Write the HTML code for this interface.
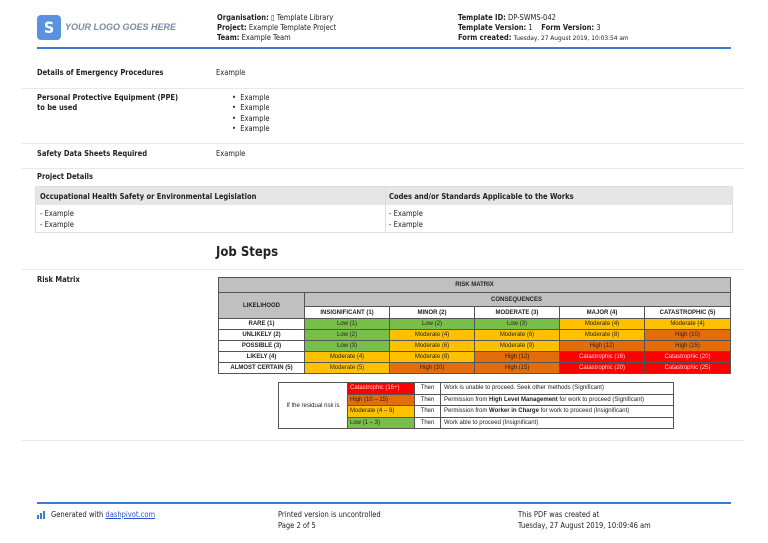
<!DOCTYPE html>
<html><head><meta charset="utf-8">
<style>
*{box-sizing:border-box;margin:0;padding:0}
body{width:768px;height:543px;background:#fff;position:relative;overflow:hidden;font-family:"DejaVu Sans Condensed","DejaVu Sans","Liberation Sans",sans-serif;color:#222;font-size:7.5px}
.a{position:absolute;white-space:nowrap}
.b{font-weight:bold}
.sep{position:absolute;left:22px;width:722px;height:1px;background:#e8e8e8}
table{border-collapse:collapse;position:absolute;font-family:"Liberation Sans",sans-serif;font-size:6px;table-layout:fixed}
td{border:1px solid #555;text-align:center;padding:0;line-height:1;overflow:hidden;white-space:nowrap}
.g{background:#78bf4a}.y{background:#ffc000}.o{background:#e46c0a}.r{background:#ff0000;color:#ffdada}
.gr{background:#c0c0c0;font-weight:bold}
</style></head><body>
<div class="a" style="left:37px;top:15px;width:24px;height:25px;background:#5a92e0;border-radius:4px;color:#fff;font-size:16px;font-weight:bold;text-align:center;line-height:25px">S</div>
<div class="a b" style="left:65px;top:22px;font-size:9px;color:#7a8aa0;font-style:italic;font-family:'Liberation Sans',sans-serif">YOUR LOGO GOES HERE</div>
<div class="a" style="left:217px;top:13px;line-height:10px"><b>Organisation:</b> ▯ Template Library<br><b>Project:</b> Example Template Project<br><b>Team:</b> Example Team</div>
<div class="a" style="left:458px;top:13px;line-height:10px"><b>Template ID:</b> DP-SWMS-042<br><b>Template Version:</b> 1 &nbsp;&nbsp; <b>Form Version:</b> 3<br><b>Form created:</b> <span style="font-size:6.5px">Tuesday, 27 August 2019, 10:03:54 am</span></div>
<div class="a" style="left:37px;top:47px;width:694px;height:2px;background:#3a7bd5"></div>

<div class="a b" style="left:37px;top:68px">Details of Emergency Procedures</div>
<div class="a" style="left:216px;top:68px">Example</div>
<div class="sep" style="top:88px"></div>
<div class="a b" style="left:37px;top:93px;line-height:10px">Personal Protective Equipment (PPE)<br>to be used</div>
<div class="a" style="left:232px;top:93px;line-height:10.3px">•&nbsp; Example<br>•&nbsp; Example<br>•&nbsp; Example<br>•&nbsp; Example</div>
<div class="sep" style="top:143px"></div>
<div class="a b" style="left:37px;top:149px">Safety Data Sheets Required</div>
<div class="a" style="left:216px;top:149px">Example</div>
<div class="sep" style="top:168px"></div>
<div class="a b" style="left:37px;top:172px">Project Details</div>
<div class="a" style="left:35px;top:186px;width:698px;height:47px;border:1px solid #ddd">
 <div class="a" style="left:0;top:0;width:696px;height:18px;background:#e6e6e6"></div>
 <div class="a" style="left:349px;top:0;width:1px;height:45px;background:#ddd"></div>
 <div class="a b" style="left:4px;top:5px">Occupational Health Safety or Environmental Legislation</div>
 <div class="a b" style="left:353px;top:5px">Codes and/or Standards Applicable to the Works</div>
 <div class="a" style="left:4px;top:22px;line-height:10.5px">- Example<br>- Example</div>
 <div class="a" style="left:353px;top:22px;line-height:10.5px">- Example<br>- Example</div>
</div>
<div class="a b" style="left:216px;top:245px;font-size:13px">Job Steps</div>
<div class="sep" style="top:269px"></div>
<div class="a b" style="left:37px;top:275px">Risk Matrix</div>

<table style="left:218px;top:277px;width:512px">
<colgroup><col style="width:86px"><col style="width:85px"><col style="width:85px"><col style="width:85px"><col style="width:85px"><col style="width:86px"></colgroup>
<tr style="height:15px"><td colspan="6" class="gr">RISK MATRIX</td></tr>
<tr style="height:14px"><td rowspan="2" class="gr">LIKELIHOOD</td><td colspan="5" class="gr" style="text-align:left;padding-left:186px">CONSEQUENCES</td></tr>
<tr style="height:12px"><td><b>INSIGNIFICANT (1)</b></td><td><b>MINOR (2)</b></td><td><b>MODERATE (3)</b></td><td><b>MAJOR (4)</b></td><td><b>CATASTROPHIC (5)</b></td></tr>
<tr style="height:11px"><td><b>RARE (1)</b></td><td class="g">Low (1)</td><td class="g">Low (2)</td><td class="g">Low (3)</td><td class="y">Moderate (4)</td><td class="y">Moderate (4)</td></tr>
<tr style="height:11px"><td><b>UNLIKELY (2)</b></td><td class="g">Low (2)</td><td class="y">Moderate (4)</td><td class="y">Moderate (6)</td><td class="y">Moderate (8)</td><td class="o">High (10)</td></tr>
<tr style="height:11px"><td><b>POSSIBLE (3)</b></td><td class="g">Low (3)</td><td class="y">Moderate (6)</td><td class="y">Moderate (9)</td><td class="o">High (12)</td><td class="o">High (15)</td></tr>
<tr style="height:11px"><td><b>LIKELY (4)</b></td><td class="y">Moderate (4)</td><td class="y">Moderate (8)</td><td class="o">High (12)</td><td class="r">Catastrophic (16)</td><td class="r">Catastrophic (20)</td></tr>
<tr style="height:11px"><td><b>ALMOST CERTAIN (5)</b></td><td class="y">Moderate (5)</td><td class="o">High (10)</td><td class="o">High (15)</td><td class="r">Catastrophic (20)</td><td class="r">Catastrophic (25)</td></tr>
</table>

<table style="left:278px;top:382px;width:395px">
<colgroup><col style="width:69px"><col style="width:67px"><col style="width:26px"><col style="width:233px"></colgroup>
<tr style="height:11.5px"><td rowspan="4">If the residual risk is</td><td class="r" style="text-align:left;padding-left:2px">Catastrophic (16+)</td><td>Then</td><td style="text-align:left;padding-left:3px">Work is unable to proceed. Seek other methods (Significant)</td></tr>
<tr style="height:11.5px"><td class="o" style="text-align:left;padding-left:2px">High (10 – 15)</td><td>Then</td><td style="text-align:left;padding-left:3px">Permission from <b>High Level Management</b> for work to proceed (Significant)</td></tr>
<tr style="height:11.5px"><td class="y" style="text-align:left;padding-left:2px">Moderate (4 – 9)</td><td>Then</td><td style="text-align:left;padding-left:3px">Permission from <b>Worker in Charge</b> for work to proceed (Insignificant)</td></tr>
<tr style="height:11.5px"><td class="g" style="text-align:left;padding-left:2px">Low (1 – 3)</td><td>Then</td><td style="text-align:left;padding-left:3px">Work able to proceed (Insignificant)</td></tr>
</table>
<div class="sep" style="top:440px"></div>

<div class="a" style="left:37px;top:502px;width:694px;height:2px;background:#3a7bd5"></div>
<div class="a" style="left:37px;top:511px;width:9px;height:8px">
 <div class="a" style="left:0;top:4px;width:2px;height:4px;background:#3a7bd5"></div>
 <div class="a" style="left:3px;top:2px;width:2px;height:6px;background:#3a7bd5"></div>
 <div class="a" style="left:6px;top:0;width:2px;height:8px;background:#3a7bd5"></div>
</div>
<div class="a" style="left:51px;top:510px">Generated with <span style="color:#2a4fd0;text-decoration:underline">dashpivot.com</span></div>
<div class="a" style="left:278px;top:510px;line-height:10.5px">Printed version is uncontrolled<br>Page 2 of 5</div>
<div class="a" style="left:518px;top:510px;line-height:10.5px">This PDF was created at<br>Tuesday, 27 August 2019, 10:09:46 am</div>
</body></html>
